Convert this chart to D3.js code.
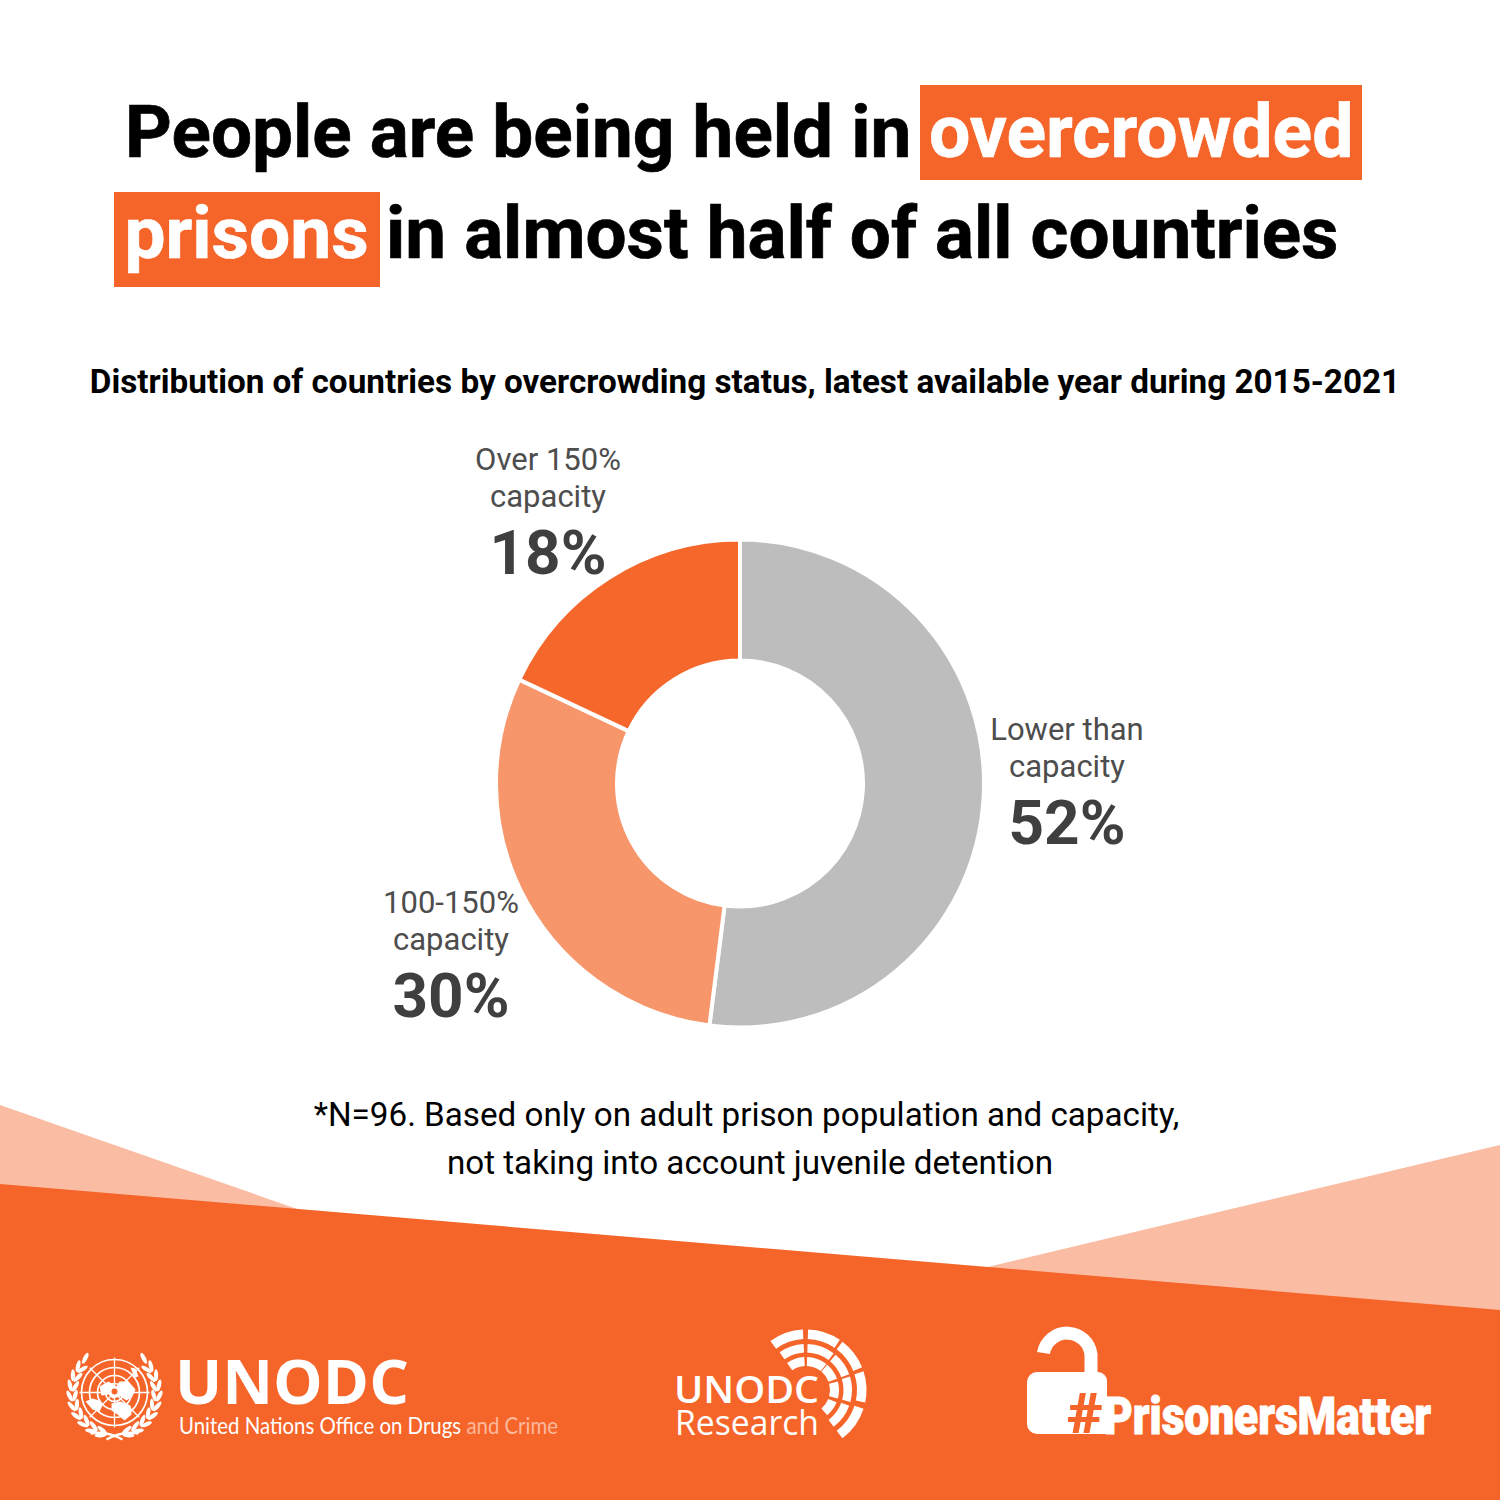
<!DOCTYPE html>
<html><head><meta charset="utf-8">
<script src="https://cdnjs.cloudflare.com/ajax/libs/d3/7.8.5/d3.min.js"></script>
<style>html,body{margin:0;padding:0;background:#fff}svg{display:block}text{font-family:Roboto,sans-serif}</style>
</head><body><svg id="c" width="1500" height="1500"></svg>
<script>
const categories=["Lower than capacity","100-150% capacity","Over 150% capacity"];
const labelLine1=["Lower than","100-150%","Over 150%"];
const labelLine2=["capacity","capacity","capacity"];
const values=[52,30,18];
const colors=["#bdbdbd","#f7966b","#f5672a"];
const labelX=[1067,451,548];
const labelY=[739,912,469];
const orange="#f5652a", pale="#fabca2";
const svg=d3.select("#c");
const T=(x,y,s,size,weight,fill,anchor)=>svg.append("text").attr("x",x).attr("y",y).text(s)
 .attr("font-size",size).attr("font-weight",weight).attr("fill",fill).attr("text-anchor",anchor||"start");
const poly=(pts,fill)=>svg.append("path").attr("d",d3.line()(pts)+"Z").attr("fill",fill);
const bold=(t,c,w)=>t.attr("stroke",c).attr("stroke-width",w);

// title
svg.append("rect").attr("x",920).attr("y",85).attr("width",442).attr("height",95).attr("fill",orange);
svg.append("rect").attr("x",114).attr("y",192).attr("width",266).attr("height",95).attr("fill",orange);
bold(T(125,157,"People are being held in",72.9,700,"#000"),"#000",.7);
bold(T(929,157,"overcrowded",73.3,700,"#fff"),"#fff",.7);
bold(T(124.5,258,"prisons",73,700,"#fff"),"#fff",.7);
bold(T(386,258,"in almost half of all countries",72.8,700,"#000"),"#000",.7);
T(745,393,"Distribution of countries by overcrowding status, latest available year during 2015-2021",33.25,700,"#000","middle");

// donut
const pie=d3.pie().sort(null)(values);
const arc=d3.arc().innerRadius(123).outerRadius(244);
const g=svg.append("g").attr("transform","translate(740,783.5)");
g.selectAll("path").data(pie).join("path").attr("d",arc)
 .attr("fill",(d,i)=>colors[i]).attr("stroke","#fff").attr("stroke-width",4);
categories.forEach((c,i)=>{
 T(labelX[i],labelY[i]+.5,labelLine1[i],31,400,"#4d4d4d","middle");
 T(labelX[i],labelY[i]+37.5,labelLine2[i],31,400,"#4d4d4d","middle");
 T(labelX[i],labelY[i]+105,values[i]+"%",62,700,"#3f3f3f","middle");
});

// footnote
T(746.5,1126,"*N=96. Based only on adult prison population and capacity,",33.2,400,"#000","middle");
T(750,1174,"not taking into account juvenile detention",33.2,400,"#000","middle");

// footer shapes
poly([[0,1105],[300,1210],[0,1210]],pale);
poly([[1500,1145],[1500,1312],[975,1270]],pale);
poly([[0,1184],[1500,1310],[1500,1500],[0,1500]],orange);

// UN emblem
const deg=Math.PI/180;
const em=svg.append("g").attr("transform","translate(114.5,1392.5)").attr("fill","none").attr("stroke","#fff");
[33,25,17,9].forEach(r=>em.append("circle").attr("r",r).attr("stroke-width",1.7));
d3.range(0,4).forEach(k=>{const a=k*Math.PI/4;
 em.append("line").attr("x1",-35*Math.cos(a)).attr("y1",-35*Math.sin(a)).attr("x2",35*Math.cos(a)).attr("y2",35*Math.sin(a)).attr("stroke-width",1.3);});
[
 "M-29,9 L-22,6 L-15,8 L-12,13 L-15,19 L-22,17 Z",
 "M-15,-6 L-6,-11 L2,-6 L5,-11 L14,-11 L21,-3 L18,4 L12,8 L6,4 L-2,6 L-6,2 L-13,3 Z",
 "M-3,11 L6,9 L16,13 L17,22 L10,28 L3,22 L-3,18 Z",
 "M16,-25 L21,-24 L24,-16 L20,-15 Z"
].forEach(d=>em.append("path").attr("d",d).attr("fill","#fff").attr("stroke","none"));
em.append("circle").attr("cx",0).attr("cy",-1).attr("r",3).attr("fill",orange).attr("stroke","none");
[-1,1].forEach(s=>{
 d3.range(0,10).forEach(k=>{
  const a=(18+k*13.5)*deg;
  [[45,22],[39.5,-22]].forEach(([r,tilt])=>{
   if(r<42&&k>8) return;
   const x=s*r*Math.sin(a), y=r*Math.cos(a);
   em.append("ellipse").attr("rx",2.1).attr("ry",6).attr("fill","#fff").attr("stroke","none")
    .attr("transform",`translate(${x},${y}) rotate(${s*(90-a/deg+tilt)})`);
  });
 });
 em.append("path").attr("d",`M${s*-8},47 Q${s*8},38 ${s*24},41`).attr("stroke-width",2.4);
});

T(175,1404,"UNODC",60,700,"#fff").style("font-family","Open Sans").attr("textLength",234).attr("lengthAdjust","spacingAndGlyphs");
const tag=T(179,1434,"United Nations Office on Drugs ",22.5,400,"#fff").style("font-family","Lato").attr("textLength",379).attr("lengthAdjust","spacingAndGlyphs");
tag.append("tspan").attr("fill","#fbb99c").text("and Crime");

// Research logo
const rg=svg.append("g").attr("transform","translate(806,1390)");
const rArc=(r0,r1,a0,a1)=>rg.append("path").attr("d",d3.arc()({innerRadius:r0,outerRadius:r1,startAngle:a0*deg,endAngle:a1*deg})).attr("fill","#fff");
[[-36,-3],[2,34],[37,68],[72,102],[108,143]].forEach(([a,b])=>rArc(51,60.5,a,b));
[[-35,-3],[2,37],[40,70],[73,105],[110,143]].forEach(([a,b])=>rArc(37.5,46,a,b));
[[-35,-3],[2,38],[40,70],[75,105],[112,140]].forEach(([a,b])=>rArc(24,33,a,b));
T(674,1403,"UNODC",38,600,"#fff").style("font-family","Open Sans").attr("textLength",145).attr("lengthAdjust","spacingAndGlyphs");
T(675,1435,"Research",35,400,"#fff").style("font-family","Open Sans").attr("textLength",144).attr("lengthAdjust","spacingAndGlyphs");

// padlock
const lg=svg.append("g");
lg.append("path").attr("d","M1043.5,1353 A24,24 0 0 1 1091,1354.5 V1376").attr("fill","none").attr("stroke","#fff").attr("stroke-width",13);
lg.append("path").attr("d","M1037,1372 H1098 A9,9 0 0 1 1107,1381 V1434 H1037 A10,10 0 0 1 1027,1424 V1382 A10,10 0 0 1 1037,1372 Z").attr("fill","#fff");
T(1067,1433,"#",55,900,orange).attr("textLength",36).attr("lengthAdjust","spacingAndGlyphs");
bold(T(1104,1434,"PrisonersMatter",51,900,"#fff").attr("textLength",327).attr("lengthAdjust","spacingAndGlyphs"),"#fff",1);
</script></body></html>
